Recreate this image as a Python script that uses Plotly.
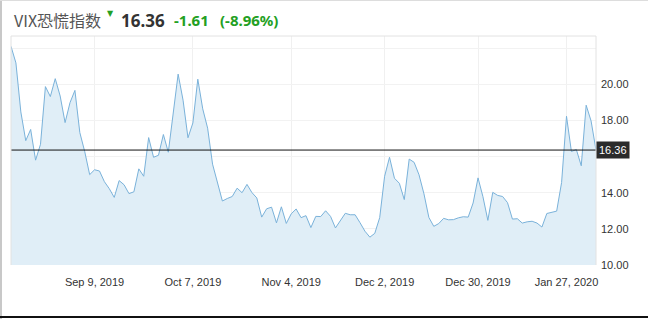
import plotly.graph_objects as go

# ---------------- data ----------------
dates = (
    ["2019-08-%02d" % d for d in [14, 15, 16, 19, 20, 21, 22, 23, 26, 27, 28, 29, 30]]
    + ["2019-09-%02d" % d for d in [3, 4, 5, 6, 9, 10, 11, 12, 13, 16, 17, 18, 19, 20, 23, 24, 25, 26, 27, 30]]
    + ["2019-10-%02d" % d for d in [1, 2, 3, 4, 7, 8, 9, 10, 11, 14, 15, 16, 17, 18, 21, 22, 23, 24, 25, 28, 29, 30, 31]]
    + ["2019-11-%02d" % d for d in [1, 4, 5, 6, 7, 8, 11, 12, 13, 14, 15, 18, 19, 20, 21, 22, 25, 26, 27, 29]]
    + ["2019-12-%02d" % d for d in [2, 3, 4, 5, 6, 9, 10, 11, 12, 13, 16, 17, 18, 19, 20, 23, 24, 26, 27, 30, 31]]
    + ["2020-01-%02d" % d for d in [2, 3, 6, 7, 8, 9, 10, 13, 14, 15, 16, 17, 21, 22, 23, 24, 27, 28, 29, 30, 31]]
    + ["2020-02-%02d" % d for d in [3, 4]]
)

vix = [
    22.10, 21.18, 18.47, 16.88, 17.50, 15.80, 16.68, 19.87, 19.32, 20.31, 19.35, 17.88, 18.98,
    19.66, 17.33, 16.27, 15.00, 15.27, 15.20, 14.61, 14.22, 13.74, 14.67, 14.44, 13.95, 14.05,
    15.32, 14.91, 17.05, 15.96, 16.07, 17.22, 16.24,
    18.56, 20.56, 19.12, 17.04, 17.86, 20.28, 18.64, 17.57, 15.58, 14.57, 13.54, 13.68, 13.79,
    14.25, 14.00, 14.46, 14.01, 13.71, 12.65, 13.11, 13.20, 12.33, 13.22,
    12.30, 12.83, 13.10, 12.62, 12.73, 12.07, 12.69, 12.68, 13.00, 12.69, 12.05, 12.46, 12.86,
    12.78, 12.78, 12.34, 11.87, 11.54, 11.75, 12.62,
    14.91, 15.96, 14.80, 14.52, 13.62, 15.86, 15.68, 14.99, 13.94, 12.63, 12.14, 12.29, 12.58,
    12.50, 12.51, 12.61, 12.67, 12.65, 13.43, 14.82, 13.78,
    12.47, 14.02, 13.85, 13.79, 13.45, 12.54, 12.56, 12.32, 12.39, 12.42, 12.32, 12.10, 12.85,
    12.91, 12.98, 14.56, 18.23, 16.28, 16.39, 15.49, 18.84,
    17.97, 16.36,
]

last_value = 16.36
change_text = "-1.61"
pct_text = "(-8.96%)"
title_text = "VIX恐慌指数"

x_tick_vals = ["2019-09-09", "2019-10-07", "2019-11-04", "2019-12-02", "2019-12-30", "2020-01-27"]
x_tick_text = ["Sep 9, 2019", "Oct 7, 2019", "Nov 4, 2019", "Dec 2, 2019", "Dec 30, 2019", "Jan 27, 2020"]
y_tick_vals = [10, 12, 14, 16, 18, 20, 22]
y_tick_text = ["10.00", "12.00", "14.00", "", "18.00", "20.00", ""]

# ---------------- layout geometry ----------------
W, H = 648, 319
L, R, T, B = 11, 52, 36, 54
PW, PH = W - L - R, H - T - B


def px(xpix):
    return (xpix - L) / PW


def py(ypix):
    return (H - B - ypix) / PH


GREEN = "#23a023"
AX_FONT = dict(family="Liberation Sans, Arial, sans-serif", size=11, color="#333333")

fig = go.Figure()
fig.add_trace(go.Scatter(
    x=dates, y=vix, mode="lines",
    line=dict(color="#7ab2da", width=1),
    fill="tozeroy", fillcolor="#e0eef7",
    hoverinfo="skip", showlegend=False,
))

shapes = [
    # reference line at last value
    dict(type="line", xref="paper", yref="y", x0=0, x1=1, y0=last_value, y1=last_value,
         line=dict(color="#111111", width=1)),
    # plot area border
    dict(type="line", xref="paper", yref="paper", x0=0, x1=1, y0=1, y1=1,
         line=dict(color="#e2e2e2", width=1)),
    dict(type="line", xref="paper", yref="paper", x0=1, x1=1, y0=0, y1=1,
         line=dict(color="#e2e2e2", width=1)),
    dict(type="line", xref="paper", yref="paper", x0=0, x1=0, y0=0, y1=1,
         line=dict(color="#e2e2e2", width=1)),
    # outer frame
    dict(type="line", xref="paper", yref="paper", x0=px(1), x1=px(1), y0=py(0), y1=py(319),
         line=dict(color="#c8c8c8", width=2)),
    dict(type="line", xref="paper", yref="paper", x0=px(0), x1=px(648), y0=py(0.5), y1=py(0.5),
         line=dict(color="#dddddd", width=1)),
    dict(type="line", xref="paper", yref="paper", x0=px(0), x1=px(648), y0=py(317), y1=py(317),
         line=dict(color="#111111", width=2)),
]

annotations = [
    dict(xref="paper", yref="y", x=1, y=last_value, xanchor="left", yanchor="middle",
         text=f"{last_value:.2f}", showarrow=False, bgcolor="#2b2b2b", borderpad=2,
         font=dict(family="Liberation Sans, Arial, sans-serif", size=11, color="#ffffff")),
    dict(xref="paper", yref="paper", x=px(12), y=py(20), xanchor="left", yanchor="middle",
         text=title_text, showarrow=False,
         font=dict(family="Noto Sans CJK SC, sans-serif", size=16, color="#555555")),
    dict(xref="paper", yref="paper", x=px(105), y=py(13), xanchor="left", yanchor="middle",
         text="▼", showarrow=False,
         font=dict(family="DejaVu Sans, sans-serif", size=8, color=GREEN)),
    dict(xref="paper", yref="paper", x=px(119), y=py(20), xanchor="left", yanchor="middle",
         text=f"<b>{last_value:.2f}</b>", showarrow=False,
         font=dict(family="Noto Sans, sans-serif", size=17, color="#333333")),
    dict(xref="paper", yref="paper", x=px(172), y=py(20), xanchor="left", yanchor="middle",
         text=f"<b>{change_text}</b>", showarrow=False,
         font=dict(family="Noto Sans, sans-serif", size=15, color=GREEN)),
    dict(xref="paper", yref="paper", x=px(218), y=py(20), xanchor="left", yanchor="middle",
         text=f"<b>{pct_text}</b>", showarrow=False,
         font=dict(family="Noto Sans, sans-serif", size=15, color=GREEN)),
]

fig.update_layout(
    width=W, height=H,
    margin=dict(l=L, r=R, t=T, b=B, pad=0),
    paper_bgcolor="#ffffff", plot_bgcolor="#ffffff",
    shapes=shapes, annotations=annotations,
    xaxis=dict(
        type="category", range=[0, len(dates) - 1],
        tickmode="array", tickvals=x_tick_vals, ticktext=x_tick_text,
        showgrid=True, gridcolor="#f0f0f0", gridwidth=1,
        zeroline=False, showline=False, ticks="", ticklabelstandoff=9,
        tickfont=AX_FONT,
    ),
    yaxis=dict(
        side="right", range=[10, 22.67],
        tickmode="array", tickvals=y_tick_vals, ticktext=y_tick_text,
        showgrid=True, gridcolor="#f2f2f2", gridwidth=1,
        zeroline=False, showline=False, ticks="", ticklabelstandoff=4,
        tickfont=AX_FONT,
    ),
)

fig.write_html("out.html")
